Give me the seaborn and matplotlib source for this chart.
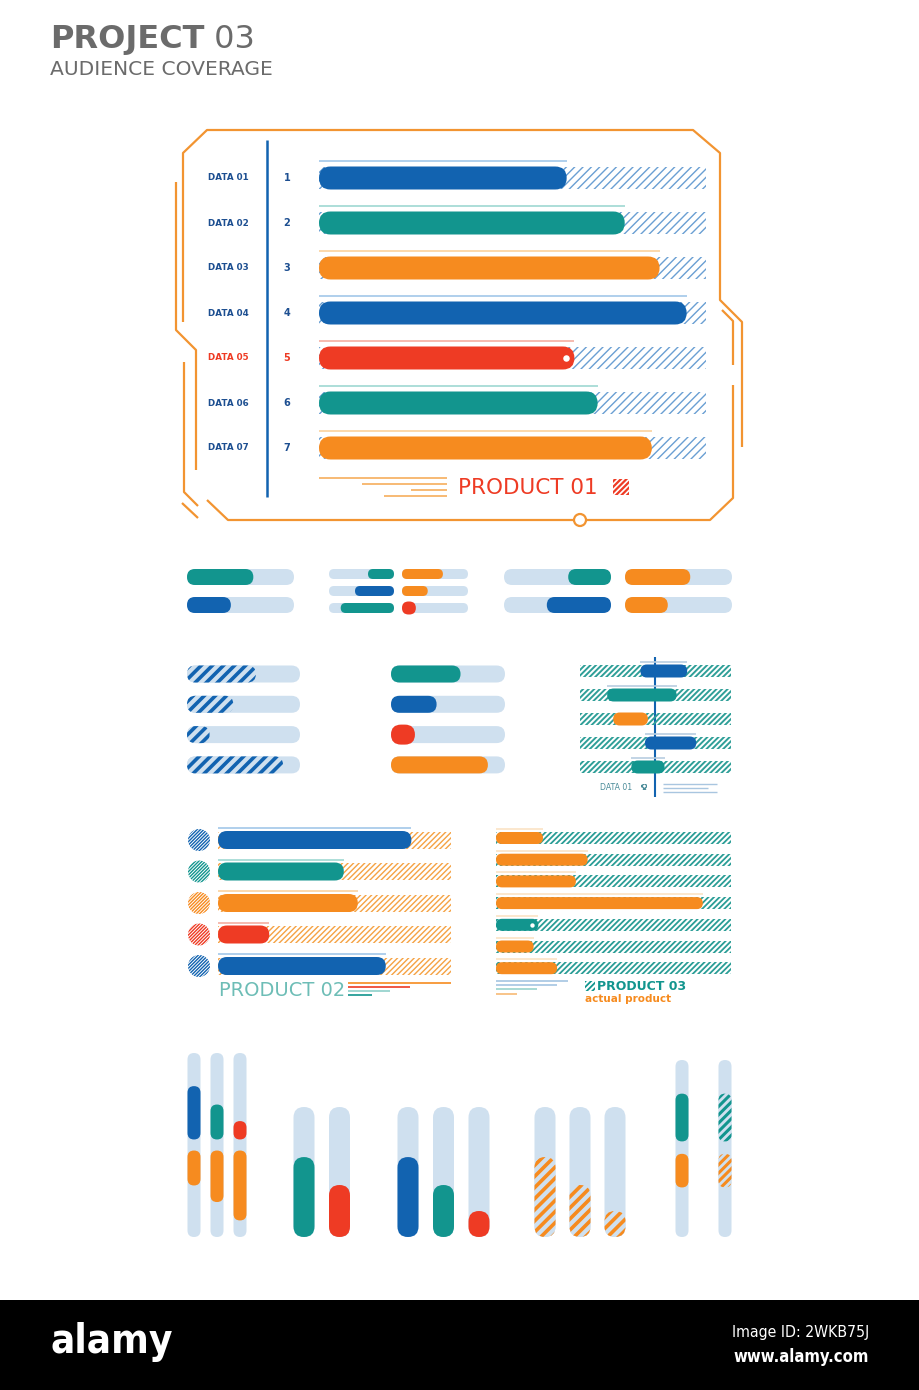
import matplotlib
matplotlib.use("Agg")
import matplotlib.pyplot as plt
import numpy as np
import seaborn as sns
from matplotlib.patches import FancyBboxPatch, Rectangle, Circle
from matplotlib.transforms import IdentityTransform, blended_transform_factory

# ---------------- data ----------------
TRACK_MAX = 100

P1_LABELS = ["DATA 01", "DATA 02", "DATA 03", "DATA 04", "DATA 05", "DATA 06", "DATA 07"]
P1_NUMBERS = ["1", "2", "3", "4", "5", "6", "7"]
P1_VALUES = [64, 79, 88, 95, 66, 72, 86]
P1_COLORS = ["blue", "teal", "orange", "blue", "red", "teal", "orange"]

A_VALUES = [62, 41]
A_COLORS = ["teal", "blue"]
B_LEFT_START = [60, 40, 18]
B_LEFT_COLORS = ["teal", "blue", "teal"]
B_RIGHT_VALUES = [62, 39, 21]
B_RIGHT_COLORS = ["orange", "orange", "red"]
C_LEFT_START = [60, 40]
C_LEFT_COLORS = ["teal", "blue"]
C_RIGHT_VALUES = [61, 40]
C_RIGHT_COLORS = ["orange", "orange"]

D_VALUES = [61, 41, 20, 85]
E_VALUES = [61, 40, 21, 85]
E_COLORS = ["teal", "blue", "red", "orange"]
F_START = [40, 18, 22, 43, 34]
F_END = [71, 64, 45, 77, 56]
F_COLORS = ["blue", "teal", "orange", "blue", "teal"]
F_GUIDE = [True, True, False, True, True]

G_VALUES = [83, 54, 60, 22, 72]
G_COLORS = ["blue", "teal", "orange", "red", "blue"]
H_VALUES = [20, 39, 34, 88, 18, 16, 26]
H_COLORS = ["orange", "orange", "orange", "orange", "teal", "orange", "orange"]

V1_UP_START = [53, 53, 53]
V1_UP_END = [82, 72, 63]
V1_UP_COLORS = ["blue", "teal", "red"]
V1_LOW_TOP = [47, 47, 47]
V1_LOW_BOTTOM = [28, 19, 9]
V2_VALUES = [61.5, 40]
V2_COLORS = ["teal", "red"]
V3_VALUES = [61.5, 40, 20]
V3_COLORS = ["blue", "teal", "red"]
V4_VALUES = [61.5, 40, 20]
V5_UP = [54, 81]
V5_LOW = [28, 47]

# ---------------- style ----------------
COL = {"blue": "#1263b0", "teal": "#12958e", "orange": "#f68b1f", "red": "#ee3b24"}
LIGHT = {"blue": "#a9cbea", "teal": "#a6dbd6", "orange": "#fbd5a5", "red": "#f6b4a8"}
TRACK = "#cfe0ef"
FRAME = "#f29431"
GRAY = "#6b6b6b"
NAVY = "#1d4f91"

W, H = 919, 1390
sns.set_theme(style="white")
plt.rcParams["font.family"] = ["DejaVu Sans"]
plt.rcParams["hatch.linewidth"] = 1.2

fig = plt.figure(figsize=(W / 100, H / 100), dpi=100)
fig.patch.set_facecolor("white")
deco = fig.add_axes([0, 0, 1, 1])
deco.set_xlim(0, W)
deco.set_ylim(H, 0)
deco.axis("off")


def box(x0, y0, x1, y1):
    ax = fig.add_axes([x0 / W, 1 - y1 / H, (x1 - x0) / W, (y1 - y0) / H])
    ax.axis("off")
    return ax


def rows_axes(x0, x1, yc0, step, n):
    ax = box(x0, yc0 - step / 2, x1, yc0 + (n - 0.5) * step)
    ax.set_xlim(0, TRACK_MAX)
    ax.set_ylim(n - 0.5, -0.5)
    return ax


def cols_axes(xc0, step, n, y_top, y_bot):
    ax = box(xc0 - step / 2, y_top, xc0 + (n - 0.5) * step, y_bot)
    ax.set_xlim(-0.5, n - 0.5)
    ax.set_ylim(0, TRACK_MAX)
    return ax


def set_hlw(p, lw):
    if hasattr(p, "set_hatch_linewidth"):
        p.set_hatch_linewidth(lw)


def rbar(ax, a, b, pos, thick, color, orient="h", hatch=None, hcolor=None, hlw=1.2, z=3):
    if orient == "h":
        X0, Y0 = ax.transData.transform((a, pos))
        X1, _ = ax.transData.transform((b, pos))
        x, y, w, h = min(X0, X1), Y0 - thick / 2, abs(X1 - X0), thick
    else:
        X0, Y0 = ax.transData.transform((pos, a))
        _, Y1 = ax.transData.transform((pos, b))
        x, y, w, h = X0 - thick / 2, min(Y0, Y1), thick, abs(Y1 - Y0)
    r = min(w, h) / 2
    plt.rcParams["hatch.linewidth"] = hlw
    p = FancyBboxPatch((x, y), w, h, boxstyle=f"round,pad=0,rounding_size={r}",
                       transform=IdentityTransform(), facecolor=color,
                       edgecolor=(hcolor if hatch else "none"), linewidth=0,
                       hatch=hatch, zorder=z, clip_on=False)
    set_hlw(p, hlw)
    ax.add_patch(p)
    return p


def sns_hatch_track(ax, n, thick_px, step, hatch, color, lw):
    cats = [f"r{i}" for i in range(n)]
    plt.rcParams["hatch.linewidth"] = lw
    sns.barplot(x=[TRACK_MAX] * n, y=cats, orient="h", ax=ax, width=thick_px / step,
                errorbar=None, color=color)
    for p in ax.patches:
        p.set_facecolor("none")
        p.set_edgecolor(color)
        p.set_hatch(hatch)
        p.set_linewidth(0)
        set_hlw(p, lw)
    ax.set_xlim(0, TRACK_MAX)
    ax.set_ylim(n - 0.5, -0.5)
    ax.axis("off")


def pline(pts, color=FRAME, lw=1.6, **kw):
    xs, ys = zip(*pts)
    deco.plot(xs, ys, color=color, lw=lw, solid_capstyle="butt", **kw)


# ---------------- title ----------------
t1 = deco.text(50, 48, "PROJECT", fontsize=23, fontweight="bold", color=GRAY, va="baseline", ha="left")
deco.annotate(" 03", xy=(1, 0), xycoords=t1, fontsize=23, color=GRAY, va="bottom", ha="left")
deco.text(50, 75, "AUDIENCE COVERAGE", fontsize=14.6, color=GRAY, va="baseline", ha="left")

# ---------------- frame ----------------
pline([(183, 322), (183, 153), (207, 130), (693, 130), (720, 153), (720, 300), (742, 322), (742, 447)])
pline([(176, 182), (176, 330), (196, 350), (196, 470)])
pline([(184, 362), (184, 492), (198, 506)])
pline([(182, 503), (198, 518)])
pline([(207, 500), (228, 520), (574, 520)])
pline([(586, 520), (710, 520), (733, 498), (733, 385)])
pline([(733, 365), (733, 321), (722, 310)])
deco.add_patch(Circle((580, 520), 6, facecolor="white", edgecolor=FRAME, lw=1.6, zorder=5))
pline([(267, 140), (267, 497)], color=COL["blue"], lw=1.8)

# ---------------- product 01 panel ----------------
ax1 = rows_axes(319, 706, 178, 45, 7)
sns_hatch_track(ax1, 7, 22, 45, "////", "#6a9fd3", 1.0)
ax1.hlines(np.arange(7) - 17 / 45, 0, P1_VALUES, colors=[LIGHT[c] for c in P1_COLORS], lw=1.3)
for i, (v, c) in enumerate(zip(P1_VALUES, P1_COLORS)):
    rbar(ax1, 0, v, i, 23, COL[c])
ax1.scatter([P1_VALUES[4] - 2.2], [4], s=22, color="white", zorder=6, linewidths=0)
tb1 = blended_transform_factory(deco.transData, ax1.transData)
for i, (lab, num) in enumerate(zip(P1_LABELS, P1_NUMBERS)):
    c = COL["red"] if i == 4 else NAVY
    ax1.text(228, i, lab, transform=tb1, ha="center", va="center", fontsize=6.3, fontweight="bold", color=c)
    ax1.text(287, i, num, transform=tb1, ha="center", va="center", fontsize=7, fontweight="bold", color=c)

for (x0, y) in [(319, 478), (362, 484), (411, 490), (384, 496)]:
    pline([(x0, y), (447, y)], color="#f7b469", lw=1.3)
deco.text(458, 488, "PRODUCT 01", fontsize=15.5, color=COL["red"], va="center", ha="left")
plt.rcParams["hatch.linewidth"] = 1.6
icon = Rectangle((613, 479), 16, 16, facecolor="none", edgecolor=COL["red"], lw=0, hatch="//////")
set_hlw(icon, 1.6)
deco.add_patch(icon)

# ---------------- row 1 widgets ----------------
axA = rows_axes(187, 294, 577, 28, 2)
for i, (v, c) in enumerate(zip(A_VALUES, A_COLORS)):
    rbar(axA, 0, TRACK_MAX, i, 16, TRACK, z=2)
    rbar(axA, 0, v, i, 16, COL[c])

axBl = rows_axes(329, 394, 574, 17, 3)
for i, (s, c) in enumerate(zip(B_LEFT_START, B_LEFT_COLORS)):
    rbar(axBl, 0, TRACK_MAX, i, 10, TRACK, z=2)
    rbar(axBl, s, TRACK_MAX, i, 10, COL[c])
axBr = rows_axes(402, 468, 574, 17, 3)
for i, (v, c) in enumerate(zip(B_RIGHT_VALUES, B_RIGHT_COLORS)):
    rbar(axBr, 0, TRACK_MAX, i, 10, TRACK, z=2)
    rbar(axBr, 0, v, i, 13 if c == "red" else 10, COL[c])

axCl = rows_axes(504, 611, 577, 28, 2)
for i, (s, c) in enumerate(zip(C_LEFT_START, C_LEFT_COLORS)):
    rbar(axCl, 0, TRACK_MAX, i, 16, TRACK, z=2)
    rbar(axCl, s, TRACK_MAX, i, 16, COL[c])
axCr = rows_axes(625, 732, 577, 28, 2)
for i, (v, c) in enumerate(zip(C_RIGHT_VALUES, C_RIGHT_COLORS)):
    rbar(axCr, 0, TRACK_MAX, i, 16, TRACK, z=2)
    rbar(axCr, 0, v, i, 16, COL[c])

# ---------------- row 2 widgets ----------------
axD = rows_axes(187, 300, 674, 30.3, 4)
for i, v in enumerate(D_VALUES):
    rbar(axD, 0, TRACK_MAX, i, 17, TRACK, z=2)
    rbar(axD, 0, v, i, 17, TRACK, hatch="///", hcolor=COL["blue"], hlw=2.6)

axE = rows_axes(391, 505, 674, 30.3, 4)
for i, (v, c) in enumerate(zip(E_VALUES, E_COLORS)):
    rbar(axE, 0, TRACK_MAX, i, 17, TRACK, z=2)
    rbar(axE, 0, v, i, 20 if c == "red" else 17, COL[c])

axF = rows_axes(580, 731, 671, 24, 5)
sns_hatch_track(axF, 5, 12, 24, "//////", "#2f9f98", 1.4)
for i, (s, e, c, g) in enumerate(zip(F_START, F_END, F_COLORS, F_GUIDE)):
    if g:
        axF.hlines(i - 9 / 24, s, e, colors="#b7cde0", lw=1.2)
    rbar(axF, s, e, i, 13, COL[c])
pline([(655, 657), (655, 797)], color=COL["blue"], lw=1.5)
deco.text(600, 787, "DATA 01", fontsize=5.6, color="#4b8c99", va="center", ha="left")
plt.rcParams["hatch.linewidth"] = 1.0
ic2 = Rectangle((641, 784), 6, 6, facecolor="none", edgecolor="#4b8c99", lw=0, hatch="xxxxxx")
set_hlw(ic2, 1.0)
deco.add_patch(ic2)
for (x1, y) in [(717, 784), (708, 788), (717, 792)]:
    pline([(663, y), (x1, y)], color="#a9c6e0", lw=1.0)

# ---------------- product 02 ----------------
axG = rows_axes(218, 451, 840, 31.5, 5)
sns_hatch_track(axG, 5, 17, 31.5, "//////", "#f5a243", 1.0)
axG.hlines(np.arange(5) - 12 / 31.5, 0, G_VALUES, colors=[LIGHT[c] for c in G_COLORS], lw=1.3)
tbG = blended_transform_factory(deco.transData, axG.transData)
for i, (v, c) in enumerate(zip(G_VALUES, G_COLORS)):
    rbar(axG, 0, v, i, 18, COL[c])
    X, Y = tbG.transform((199, i))
    plt.rcParams["hatch.linewidth"] = 1.0
    circ = Circle((X, Y), 11, transform=IdentityTransform(), facecolor="white",
                  edgecolor=COL[c], lw=0, hatch="//////////", clip_on=False)
    set_hlw(circ, 1.0)
    axG.add_patch(circ)
deco.text(219, 990, "PRODUCT 02", fontsize=14, color="#6dbdb6", va="center", ha="left")
for (x1, y, c) in [(451, 983, COL["orange"]), (410, 987, COL["red"]), (390, 991, "#8fcfc9"), (372, 995, COL["teal"])]:
    pline([(348, y), (x1, y)], color=c, lw=1.2)

# ---------------- product 03 ----------------
axH = rows_axes(496, 731, 838, 21.7, 7)
sns_hatch_track(axH, 7, 12, 21.7, "//////", "#2a9d96", 1.3)
axH.hlines(np.arange(7) - 9 / 21.7, 0, H_VALUES, colors="#fbe0c0", lw=1.1)
for i, (v, c) in enumerate(zip(H_VALUES, H_COLORS)):
    rbar(axH, 0, v, i, 12, COL[c])
axH.scatter([H_VALUES[4] - 2.5], [4], s=10, color="white", zorder=6, linewidths=0)
for (x1, y, c) in [(568, 981, "#9cc0df"), (557, 985, "#9cc0df"), (537, 989, "#8fcfc9"), (517, 994, "#f7b469")]:
    pline([(496, y), (x1, y)], color=c, lw=1.1)
plt.rcParams["hatch.linewidth"] = 1.3
ic3 = Rectangle((585, 981), 10, 10, facecolor="none", edgecolor=COL["teal"], lw=0, hatch="//////")
set_hlw(ic3, 1.3)
deco.add_patch(ic3)
deco.text(597, 986, "PRODUCT 03", fontsize=9, fontweight="bold", color=COL["teal"], va="center", ha="left")
deco.text(585, 999, "actual product", fontsize=7.5, fontweight="bold", color=COL["orange"], va="center", ha="left")

# ---------------- vertical groups ----------------
axV1 = cols_axes(194, 23, 3, 1053, 1237)
for i in range(3):
    rbar(axV1, 0, TRACK_MAX, i, 13, TRACK, orient="v", z=2)
    rbar(axV1, V1_UP_START[i], V1_UP_END[i], i, 13, COL[V1_UP_COLORS[i]], orient="v")
    rbar(axV1, V1_LOW_BOTTOM[i], V1_LOW_TOP[i], i, 13, COL["orange"], orient="v")

axV2 = cols_axes(304, 35.5, 2, 1107, 1237)
for i, (v, c) in enumerate(zip(V2_VALUES, V2_COLORS)):
    rbar(axV2, 0, TRACK_MAX, i, 21, TRACK, orient="v", z=2)
    rbar(axV2, 0, v, i, 21, COL[c], orient="v")

axV3 = cols_axes(408, 35.5, 3, 1107, 1237)
for i, (v, c) in enumerate(zip(V3_VALUES, V3_COLORS)):
    rbar(axV3, 0, TRACK_MAX, i, 21, TRACK, orient="v", z=2)
    rbar(axV3, 0, v, i, 21, COL[c], orient="v")

axV4 = cols_axes(545, 35, 3, 1107, 1237)
for i, v in enumerate(V4_VALUES):
    rbar(axV4, 0, TRACK_MAX, i, 21, TRACK, orient="v", z=2)
    rbar(axV4, 0, v, i, 21, TRACK, orient="v", hatch="///", hcolor=COL["orange"], hlw=2.6)

axV5 = cols_axes(682, 43, 2, 1060, 1237)
for i in range(2):
    rbar(axV5, 0, TRACK_MAX, i, 13, TRACK, orient="v", z=2)
    if i == 0:
        rbar(axV5, V5_UP[0], V5_UP[1], i, 13, COL["teal"], orient="v")
        rbar(axV5, V5_LOW[0], V5_LOW[1], i, 13, COL["orange"], orient="v")
    else:
        rbar(axV5, V5_UP[0], V5_UP[1], i, 13, TRACK, orient="v", hatch="////", hcolor=COL["teal"], hlw=2.2)
        rbar(axV5, V5_LOW[0], V5_LOW[1], i, 13, TRACK, orient="v", hatch="////", hcolor=COL["orange"], hlw=2.2)

# ---------------- banner ----------------
deco.add_patch(Rectangle((0, 1300), W, 90, facecolor="black", edgecolor="none"))
deco.text(50, 1342, "alamy", fontsize=29, fontweight="bold", fontstretch="condensed", color="white",
          va="center", ha="left")
deco.text(869, 1332, "Image ID: 2WKB75J", fontsize=11.3, fontstretch="condensed", color="white",
          va="center", ha="right")
deco.text(869, 1357, "www.alamy.com", fontsize=12, fontweight="bold", fontstretch="condensed", color="white",
          va="center", ha="right")

fig.savefig("out.png", dpi=100)
